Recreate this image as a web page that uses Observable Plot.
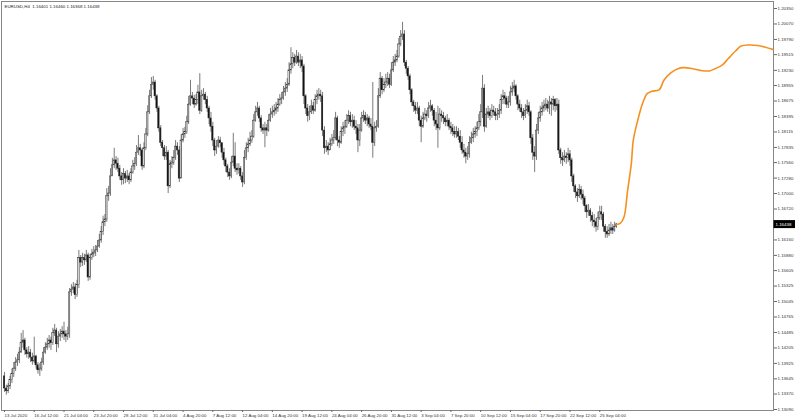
<!DOCTYPE html>
<html><head><meta charset="utf-8">
<script src="https://cdn.jsdelivr.net/npm/d3@7"></script>
<script src="https://cdn.jsdelivr.net/npm/@observablehq/plot@0.6"></script>
<style>body{margin:0;background:#fff;} svg{display:block}</style>
</head><body><div id="chart"></div>
<script>
const header = "EURUSD,H4  1.16401 1.16460 1.16368 1.16438";
const lastPrice = 1.16438;
const firstOpen = 1.1369;
const closes = [
1.1347,1.1342,1.1351,1.1362,1.1373,1.1383,1.1394,1.1398,1.1412,1.1430,
1.1434,1.1416,1.1409,1.1412,1.1403,1.1396,1.1405,1.1389,1.1380,1.1383,
1.1394,1.1412,1.1421,1.1427,1.1434,1.1429,1.1447,1.1452,1.1427,1.1441,
1.1445,1.1450,1.1445,1.1441,1.1445,1.1521,1.1526,1.1530,1.1516,1.1534,
1.1583,1.1575,1.1583,1.1579,1.1588,1.1548,1.1583,1.1590,1.1593,1.1597,
1.1604,1.1615,1.1630,1.1648,1.1653,1.1695,1.1700,1.1731,1.1751,1.1760,
1.1754,1.1745,1.1731,1.1724,1.1735,1.1727,1.1731,1.1724,1.1738,1.1749,
1.1754,1.1774,1.1782,1.1778,1.1749,1.1782,1.1807,1.1847,1.1876,1.1897,
1.1901,1.1876,1.1854,1.1818,1.1792,1.1782,1.1767,1.1774,1.1713,1.1753,
1.1756,1.1764,1.1785,1.1778,1.1727,1.1796,1.1807,1.1811,1.1829,1.1861,
1.1876,1.1872,1.1861,1.1869,1.1883,1.1850,1.1876,1.1879,1.1869,1.1854,
1.1836,1.1821,1.1796,1.1778,1.1785,1.1796,1.1791,1.1774,1.1760,1.1749,
1.1738,1.1731,1.1756,1.1767,1.1745,1.1742,1.1745,1.1731,1.1720,1.1764,
1.1782,1.1789,1.1796,1.1803,1.1832,1.1847,1.1854,1.1836,1.1818,1.1814,
1.1818,1.1814,1.1832,1.1843,1.1847,1.1850,1.1854,1.1861,1.1869,1.1872,
1.1883,1.1890,1.1897,1.1923,1.1934,1.1945,1.1937,1.1948,1.1937,1.1941,
1.1930,1.1876,1.1854,1.1840,1.1847,1.1858,1.1850,1.1869,1.1876,1.1879,
1.1876,1.1814,1.1782,1.1785,1.1778,1.1789,1.1796,1.1800,1.1836,1.1796,
1.1792,1.1811,1.1818,1.1821,1.1832,1.1840,1.1829,1.1832,1.1821,1.1818,
1.1796,1.1814,1.1836,1.1840,1.1832,1.1836,1.1825,1.1821,1.1792,1.1818,
1.1821,1.1876,1.1908,1.1887,1.1897,1.1901,1.1908,1.1897,1.1923,1.1937,
1.1941,1.1948,1.1970,1.1984,1.1988,1.1937,1.1926,1.1912,1.1887,1.1865,
1.1858,1.1850,1.1854,1.1832,1.1821,1.1836,1.1843,1.1840,1.1854,1.1858,
1.1850,1.1832,1.1825,1.1818,1.1843,1.1840,1.1836,1.1829,1.1832,1.1821,
1.1818,1.1811,1.1807,1.1811,1.1803,1.1792,1.1778,1.1774,1.1767,1.1771,
1.1792,1.1800,1.1807,1.1811,1.1818,1.1829,1.1847,1.1890,1.1821,1.1843,
1.1847,1.1840,1.1850,1.1847,1.1840,1.1843,1.1850,1.1869,1.1876,1.1872,
1.1861,1.1865,1.1883,1.1890,1.1894,1.1876,1.1861,1.1854,1.1847,1.1840,
1.1850,1.1858,1.1847,1.1800,1.1774,1.1767,1.1814,1.1836,1.1847,1.1854,
1.1858,1.1861,1.1854,1.1865,1.1861,1.1869,1.1858,1.1861,1.1778,1.1764,
1.1760,1.1767,1.1764,1.1771,1.1760,1.1731,1.1713,1.1702,1.1695,1.1706,
1.1698,1.1691,1.1677,1.1666,1.1669,1.1659,1.1651,1.1648,1.1640,1.1655,
1.1666,1.1662,1.1640,1.1630,1.1626,1.1633,1.1637,1.1633,1.1640,1.1644
];
const highs = [
1.1376,1.1353,1.1356,1.1369,1.1382,1.1394,1.1403,1.1409,1.1421,1.1447,
1.1452,1.1438,1.1421,1.1423,1.1418,1.1411,1.1440,1.1407,1.1394,1.1392,
1.1402,1.1421,1.1430,1.1438,1.1443,1.1440,1.1456,1.1463,1.1456,1.1450,
1.1454,1.1459,1.1467,1.1452,1.1458,1.1528,1.1535,1.1539,1.1537,1.1543,
1.1597,1.1588,1.1592,1.1590,1.1597,1.1592,1.1590,1.1599,1.1604,1.1606,
1.1615,1.1626,1.1640,1.1659,1.1662,1.1709,1.1713,1.1745,1.1764,1.1782,
1.1767,1.1764,1.1751,1.1738,1.1745,1.1740,1.1742,1.1736,1.1745,1.1760,
1.1765,1.1787,1.1805,1.1789,1.1782,1.1792,1.1818,1.1859,1.1887,1.1910,
1.1912,1.1905,1.1879,1.1858,1.1823,1.1796,1.1787,1.1785,1.1778,1.1760,
1.1767,1.1778,1.1796,1.1792,1.1785,1.1807,1.1818,1.1820,1.1840,1.1876,
1.1905,1.1883,1.1878,1.1879,1.1896,1.1917,1.1887,1.1890,1.1883,1.1876,
1.1858,1.1847,1.1829,1.1800,1.1796,1.1803,1.1802,1.1792,1.1782,1.1764,
1.1753,1.1745,1.1767,1.1809,1.1792,1.1754,1.1754,1.1749,1.1738,1.1778,
1.1792,1.1800,1.1811,1.1814,1.1843,1.1858,1.1865,1.1858,1.1841,1.1825,
1.1829,1.1825,1.1843,1.1854,1.1858,1.1861,1.1865,1.1872,1.1879,1.1883,
1.1894,1.1901,1.1908,1.1937,1.1964,1.1955,1.1952,1.1959,1.1955,1.1952,
1.1948,1.1934,1.1879,1.1861,1.1858,1.1869,1.1865,1.1879,1.1887,1.1890,
1.1887,1.1883,1.1821,1.1796,1.1792,1.1800,1.1807,1.1814,1.1847,1.1840,
1.1803,1.1821,1.1829,1.1832,1.1843,1.1850,1.1847,1.1843,1.1840,1.1832,
1.1825,1.1825,1.1847,1.1850,1.1847,1.1843,1.1840,1.1836,1.1901,1.1829,
1.1832,1.1890,1.1919,1.1912,1.1908,1.1916,1.1919,1.1916,1.1937,1.1948,
1.1952,1.1959,1.1981,1.1995,1.2010,1.1995,1.1941,1.1930,1.1916,1.1890,
1.1869,1.1865,1.1865,1.1858,1.1840,1.1847,1.1854,1.1850,1.1865,1.1869,
1.1861,1.1854,1.1847,1.1858,1.1854,1.1850,1.1847,1.1840,1.1843,1.1836,
1.1829,1.1825,1.1821,1.1821,1.1818,1.1814,1.1803,1.1789,1.1782,1.1785,
1.1803,1.1811,1.1818,1.1821,1.1829,1.1843,1.1861,1.1914,1.1897,1.1854,
1.1858,1.1854,1.1861,1.1858,1.1854,1.1854,1.1861,1.1879,1.1887,1.1883,
1.1876,1.1876,1.1894,1.1901,1.1905,1.1897,1.1879,1.1869,1.1861,1.1854,
1.1861,1.1869,1.1865,1.1850,1.1807,1.1785,1.1825,1.1847,1.1858,1.1865,
1.1869,1.1872,1.1869,1.1876,1.1872,1.1876,1.1872,1.1872,1.1869,1.1782,
1.1774,1.1778,1.1774,1.1782,1.1778,1.1764,1.1735,1.1716,1.1709,1.1716,
1.1713,1.1706,1.1695,1.1680,1.1680,1.1673,1.1666,1.1662,1.1655,1.1666,
1.1677,1.1677,1.1666,1.1644,1.1640,1.1644,1.1648,1.1644,1.1648,1.1646
];
const lows = [
1.1340,1.1335,1.1338,1.1345,1.1356,1.1367,1.1378,1.1387,1.1392,1.1411,
1.1420,1.1407,1.1402,1.1400,1.1394,1.1389,1.1392,1.1382,1.1373,1.1369,
1.1378,1.1389,1.1409,1.1416,1.1420,1.1416,1.1425,1.1441,1.1412,1.1420,
1.1432,1.1438,1.1434,1.1430,1.1434,1.1438,1.1514,1.1519,1.1508,1.1512,
1.1528,1.1566,1.1568,1.1570,1.1575,1.1541,1.1543,1.1579,1.1584,1.1586,
1.1593,1.1601,1.1610,1.1624,1.1640,1.1648,1.1686,1.1695,1.1733,1.1745,
1.1742,1.1738,1.1724,1.1715,1.1716,1.1718,1.1720,1.1716,1.1720,1.1735,
1.1742,1.1749,1.1769,1.1767,1.1742,1.1745,1.1778,1.1803,1.1843,1.1872,
1.1887,1.1869,1.1847,1.1811,1.1785,1.1767,1.1760,1.1760,1.1700,1.1709,
1.1745,1.1751,1.1760,1.1769,1.1720,1.1727,1.1792,1.1800,1.1807,1.1825,
1.1858,1.1861,1.1854,1.1858,1.1861,1.1843,1.1847,1.1869,1.1861,1.1847,
1.1825,1.1811,1.1785,1.1767,1.1771,1.1782,1.1783,1.1764,1.1751,1.1738,
1.1729,1.1724,1.1727,1.1749,1.1738,1.1733,1.1735,1.1724,1.1711,1.1716,
1.1760,1.1774,1.1785,1.1791,1.1800,1.1829,1.1840,1.1829,1.1811,1.1807,
1.1783,1.1803,1.1811,1.1829,1.1836,1.1840,1.1843,1.1847,1.1858,1.1861,
1.1869,1.1876,1.1883,1.1894,1.1916,1.1926,1.1930,1.1934,1.1930,1.1926,
1.1919,1.1861,1.1843,1.1829,1.1832,1.1843,1.1843,1.1847,1.1861,1.1869,
1.1865,1.1803,1.1771,1.1774,1.1769,1.1778,1.1785,1.1789,1.1796,1.1785,
1.1782,1.1789,1.1803,1.1807,1.1818,1.1825,1.1821,1.1818,1.1814,1.1807,
1.1774,1.1785,1.1811,1.1829,1.1825,1.1821,1.1818,1.1814,1.1764,1.1785,
1.1811,1.1818,1.1872,1.1879,1.1883,1.1890,1.1894,1.1890,1.1894,1.1919,
1.1930,1.1937,1.1945,1.1966,1.1977,1.1930,1.1916,1.1905,1.1879,1.1858,
1.1847,1.1843,1.1843,1.1821,1.1792,1.1818,1.1832,1.1829,1.1836,1.1847,
1.1840,1.1821,1.1814,1.1782,1.1814,1.1829,1.1825,1.1821,1.1821,1.1814,
1.1807,1.1803,1.1800,1.1800,1.1796,1.1782,1.1771,1.1764,1.1754,1.1760,
1.1764,1.1789,1.1792,1.1800,1.1803,1.1814,1.1821,1.1836,1.1811,1.1818,
1.1836,1.1832,1.1836,1.1840,1.1832,1.1832,1.1836,1.1843,1.1861,1.1861,
1.1854,1.1854,1.1858,1.1876,1.1883,1.1869,1.1850,1.1847,1.1836,1.1832,
1.1836,1.1843,1.1840,1.1789,1.1760,1.1738,1.1760,1.1807,1.1829,1.1840,
1.1847,1.1850,1.1847,1.1843,1.1840,1.1850,1.1847,1.1850,1.1771,1.1753,
1.1749,1.1756,1.1753,1.1756,1.1749,1.1720,1.1702,1.1691,1.1684,1.1691,
1.1688,1.1680,1.1666,1.1655,1.1659,1.1648,1.1640,1.1637,1.1630,1.1633,
1.1651,1.1651,1.1630,1.1619,1.1619,1.1622,1.1626,1.1626,1.1630,1.1637
];
const forecastBars = [329,331,333,335,337,338,340,343,345.5,348,352,354.5,358,362,365,370,374,379,382,386,389,393,396,400,405,409,413];
const forecastPrices = [1.1644,1.1646,1.1657,1.1706,1.1755,1.1796,1.1827,1.1863,1.1881,1.1885,1.1888,1.1905,1.1918,1.1926,1.1928,1.1926,1.1923,1.1922,1.1926,1.1933,1.1944,1.1958,1.1967,1.1969,1.1968,1.1965,1.1961];
const tickBars = [0,16,32,48,64,80,96,112,128,144,160,176,192,208,224,240,256,272,288,304,320];
const tickLabels = ["13 Jul 2020","16 Jul 12:00","21 Jul 04:00","23 Jul 20:00","28 Jul 12:00","31 Jul 04:00","4 Aug 20:00","7 Aug 12:00","12 Aug 04:00","14 Aug 20:00","19 Aug 12:00","24 Aug 04:00","26 Aug 20:00","31 Aug 12:00","3 Sep 04:00","7 Sep 20:00","10 Sep 12:00","15 Sep 04:00","17 Sep 20:00","22 Sep 12:00","25 Sep 04:00"];
const priceTicks = [1.13090,1.13370,1.13645,1.13925,1.14205,1.14485,1.14765,1.15045,1.15325,1.15605,1.15880,1.16160,1.16720,1.17000,1.17280,1.17560,1.17835,1.18115,1.18395,1.18675,1.18955,1.19230,1.19515,1.19790,1.20070,1.20350];

const candles = closes.map((c, i) => {
  const o = i ? closes[i - 1] : firstOpen;
  return {i, o, c, h: Math.max(highs[i], o, c), l: Math.min(lows[i], o, c), up: c >= o};
});
const forecast = forecastBars.map((b, k) => ({b, p: forecastPrices[k]}));
const fmt5 = d3.format(".5f");
const FONT = "'Liberation Sans', Arial, sans-serif";

const chart = Plot.plot({
  width: 795, height: 420,
  marginLeft: 1, marginTop: 1, marginRight: 22, marginBottom: 10,
  style: {fontFamily: FONT, fontSize: "4.4px", color: "#333", background: "#fff", overflow: "visible"},
  x: {domain: [-1.6, 413.4], axis: null},
  y: {domain: [1.13072, 1.20477], axis: null},
  marks: [
    Plot.frame({stroke: "#888"}),
    Plot.axisY({anchor: "right", ticks: priceTicks, tickFormat: fmt5, tickSize: 3, tickPadding: 1, label: null, stroke: "#666"}),
    Plot.axisX({ticks: tickBars, tickFormat: d => tickLabels[tickBars.indexOf(d)], textAnchor: "start", tickSize: 2, tickPadding: 1, label: null, stroke: "#666"}),
    Plot.ruleX(candles, {x: "i", y1: "l", y2: "h", stroke: "#7a7a7a", strokeWidth: 1}),
    Plot.rect(candles, {x1: d => d.i - 0.35, x2: d => d.i + 0.35, y1: "o", y2: "c", fill: d => d.up ? "#fff" : "#111", stroke: "#222", strokeWidth: 0.5}),
    Plot.line(forecast, {x: "b", y: "p", stroke: "#f5901f", strokeWidth: 1.6, curve: "catmull-rom"}),
    Plot.text([header], {text: d => d, frameAnchor: "top-left", dx: 3, dy: 3, textAnchor: "start", fill: "#222"})
  ]
});

const ys = chart.scale("y").apply(lastPrice);
const xr = chart.scale("x").range[1];
const svg = d3.select(chart);
const g = svg.append("g");
g.append("rect").attr("x", xr + 0.5).attr("y", ys - 4).attr("width", 795 - xr - 0.5).attr("height", 8).attr("fill", "#000");
g.append("text").attr("x", xr + 2.5).attr("y", ys).attr("dy", "0.35em").attr("fill", "#fff")
  .attr("text-anchor", "start").attr("font-size", 4.4).attr("font-family", FONT).text(fmt5(lastPrice));

document.getElementById("chart").appendChild(chart);
</script>
</body></html>
